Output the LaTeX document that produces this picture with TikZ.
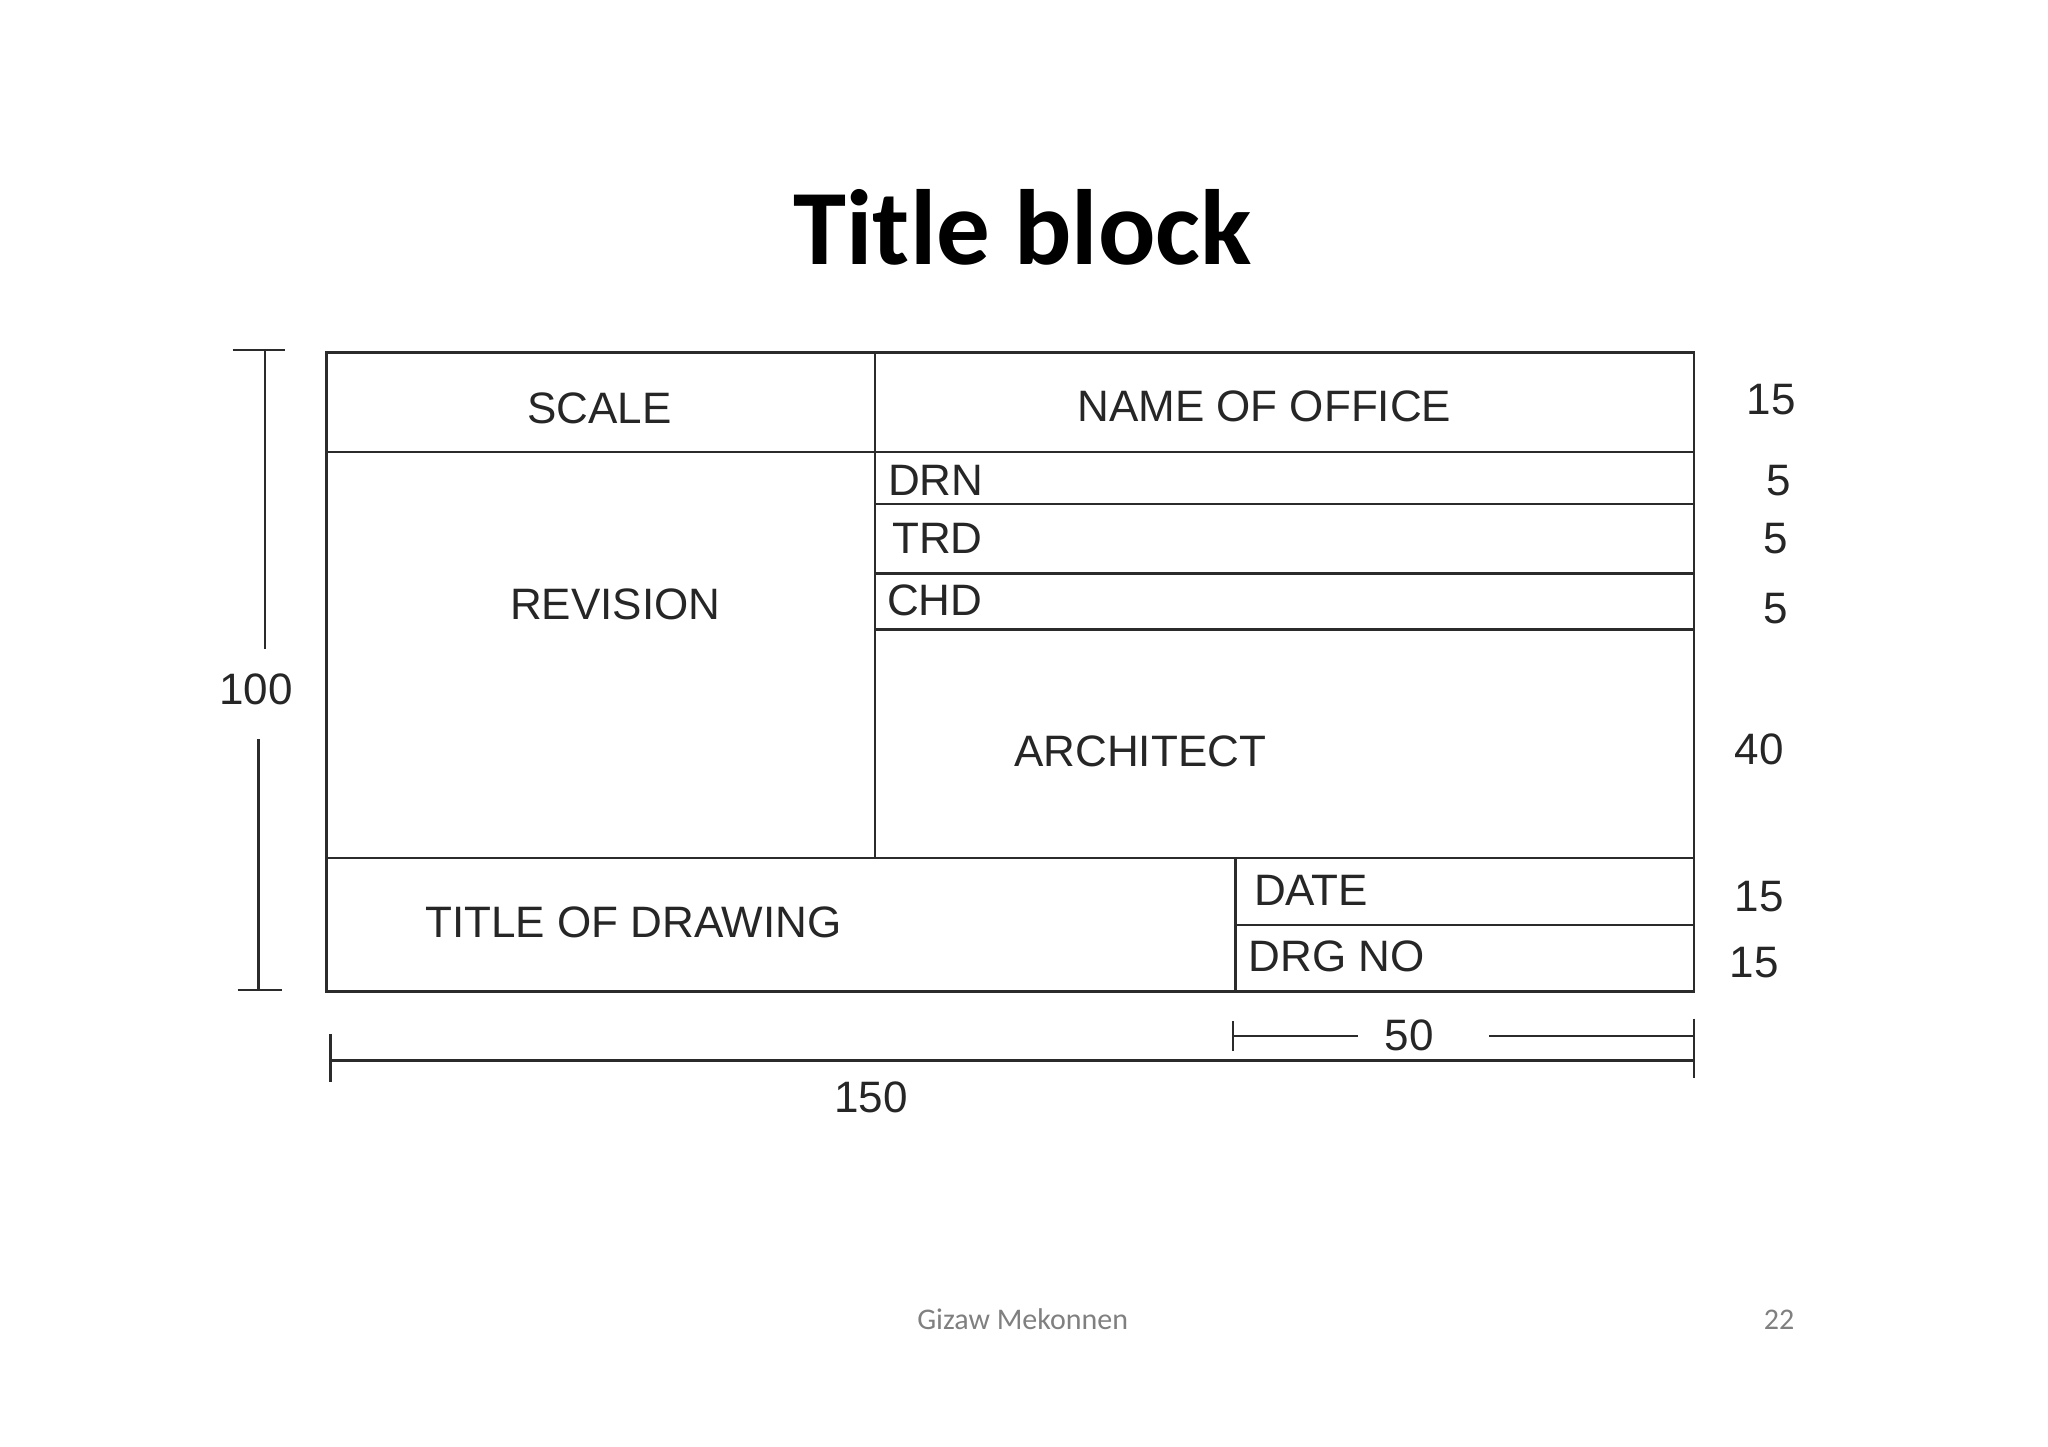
\documentclass[tikz,border=0pt]{standalone}
\usepackage{fontspec}
\setmainfont{Liberation Sans}
\newfontfamily\titlefont{Carlito}
\definecolor{ink}{HTML}{2B2B2B}
\definecolor{footgray}{HTML}{808080}
\begin{document}
\begin{tikzpicture}[x=1pt,y=-1pt,
  tbline/.style={line width=2.4pt,color=ink},
  dimline/.style={line width=2.4pt,color=ink},
  lbl/.style={inner sep=0pt,font=\fontsize{44}{50}\selectfont,text height=31.5pt,text depth=0pt,color=black!85},
  lbll/.style={lbl,anchor=west},
  num/.style={lbl}
]
\useasboundingbox[fill=white] (0,0) rectangle (2048,1447);

% title and footer
\node[inner sep=0pt,font=\titlefont\bfseries\fontsize{107}{120}\selectfont,text height=69pt,text depth=0pt] (title) at (1022.7,230.5) {Title block};
\node[inner sep=0pt,font=\titlefont\fontsize{30}{36}\selectfont,text height=19.3pt,text depth=0pt,color=footgray] (author) at (1022.7,1320) {Gizaw Mekonnen};
\node[inner sep=0pt,font=\titlefont\fontsize{30}{36}\selectfont,text height=19.3pt,text depth=0pt,color=footgray] (page) at (1779,1320) {22};

% table corners and dividers
\coordinate (tl) at (326.5,352.6);
\coordinate (br) at (1694,991.3);
\coordinate (vdA) at (875.1,352.6);
\coordinate (vdB) at (875.1,858.1);
\coordinate (vdC) at (1235.6,858.1);
\coordinate (vdD) at (1235.6,991.3);

\draw[tbline] (tl) rectangle (br);
\draw[tbline] (vdA) -- (vdB);
\draw[tbline] (vdC) -- (vdD);
\draw[tbline] (326.5,452) -- (1694,452);
\draw[tbline] (875.1,504) -- (1694,504);
\draw[tbline] (875.1,573.4) -- (1694,573.4);
\draw[tbline] (875.1,629.5) -- (1694,629.5);
\draw[tbline] (326.5,858.1) -- (1694,858.1);
\draw[tbline] (1235.6,924.7) -- (1694,924.7);

% cell labels
\node[lbl] (scale) at (599.5,407.5) {SCALE};
\node[lbl] (office) at (1264.3,406.2) {NAME OF OFFICE};
\node[lbll] (drn) at (888,479.3) {DRN};
\node[lbll] (trd) at (892,538) {TRD};
\node[lbll] (chd) at (887,599.5) {CHD};
\node[lbl] (revision) at (615.2,603.4) {REVISION};
\node[lbl] (architect) at (1140.2,751) {ARCHITECT};
\node[lbl] (tod) at (633.5,922.1) {TITLE OF DRAWING};
\node[lbll] (date) at (1253.9,889.5) {DATE};
\node[lbll] (drgno) at (1248.6,956) {DRG NO};

% right-hand sizes
\node[num] (n15a) at (1771,398.4) {15};
\node[num] (n5a) at (1779,479.3) {5};
\node[num] (n5b) at (1776,538) {5};
\node[num] (n5c) at (1776,607.3) {5};
\node[num] (n40) at (1759.3,748.4) {40};
\node[num] (n15b) at (1759.3,896) {15};
\node[num] (n15c) at (1754,961.3) {15};

% left dimension (100)
\node[num] (n100) at (256,688.3) {100};
\coordinate (lvTop) at (265.1,350);
\coordinate (lvTopEnd) at (265.1,649);
\coordinate (lvBotStart) at (258.6,739);
\coordinate (lvBot) at (258.6,990);
\draw[dimline] (lvTop) -- (lvTopEnd);
\draw[dimline] (lvBotStart) -- (lvBot);
\draw[dimline] (232.5,350) -- (284.7,350);
\draw[dimline] (237.7,990) -- (282,990);

% bottom dimension (150)
\node[num] (n150) at (871.2,1097.1) {150};
\coordinate (bL) at (330.4,1060.5);
\coordinate (bR) at (1694,1060.5);
\draw[dimline] (bL) -- (bR);
\draw[dimline] (330.4,1034.4) -- (330.4,1081.5);
\draw[dimline] (1694,1018.7) -- (1694,1077.5);

% 50 dimension
\node[num] (n50) at (1409.3,1034.4) {50};
\coordinate (fL) at (1233,1035.8);
\coordinate (fR) at (1694,1035.8);
\draw[dimline] (1233,1021) -- (1233,1051.4);
\draw[dimline] (fL) -- (1358.4,1035.8);
\draw[dimline] (1489,1035.8) -- (fR);
\end{tikzpicture}
\end{document}
